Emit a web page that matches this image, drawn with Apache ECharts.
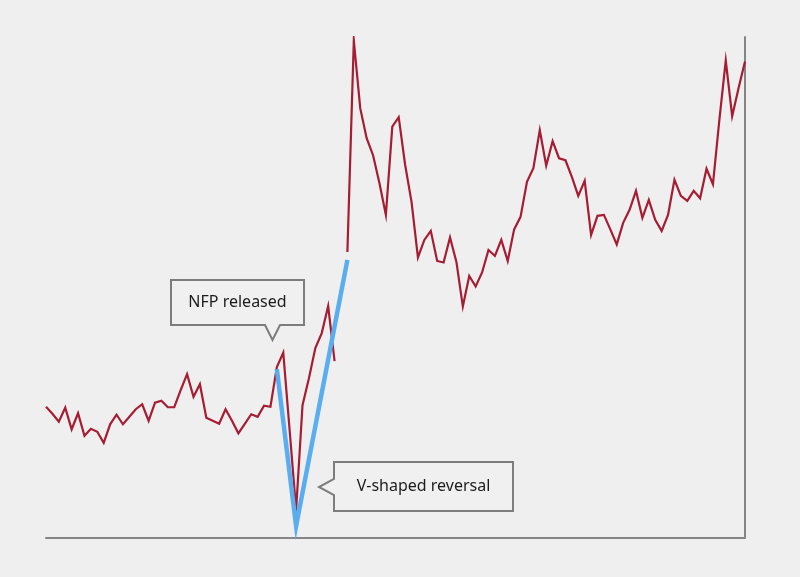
<!DOCTYPE html>
<html>
<head>
<meta charset="utf-8">
<title>NFP V-shaped reversal</title>
<script src="https://cdn.jsdelivr.net/npm/echarts@6/dist/echarts.min.js"></script>
<style>
  html, body { margin: 0; padding: 0; background: #efefef; }
  #chart { width: 800px; height: 577px; }
</style>
</head>
<body>
<div id="chart"></div>
<script>
// price path, one value per bar (index scale 0..100, no labels shown)
const prices = [
  26.2, 24.8, 23.2, 26.0, 21.7, 24.9, 20.4, 21.8, 21.2, 19.0,
  22.7, 24.6, 22.7, 24.2, 25.7, 26.7, 23.4, 27.0, 27.4, 26.1,
  26.1, 29.5, 32.7, 28.2, 30.7, 24.0, 23.4, 22.8, 25.7, 23.4,
  20.9, 22.8, 24.7, 24.2, 26.4, 26.2, 34.1, 37.0, 21.4, 5.6,
  26.5, 31.9, 37.9, 40.9, 46.3, 35.3, null, 57.1, 99.3, 85.8,
  79.8, 76.4, 70.8, 64.5, 82.1, 84.0, 74.5, 67.1, 56.0, 59.5,
  61.3, 55.3, 55.0, 60.0, 55.1, 46.2, 52.3, 50.2, 53.0, 57.5,
  56.3, 59.5, 55.3, 61.6, 64.1, 71.1, 73.8, 81.4, 74.3, 79.2,
  75.8, 75.4, 72.1, 68.3, 71.3, 60.5, 64.3, 64.5, 61.6, 58.6,
  62.9, 65.5, 69.3, 63.9, 67.5, 63.5, 61.3, 64.5, 71.5, 68.3,
  67.3, 69.3, 67.8, 73.7, 70.6, 83.4, 95.3, 84.2, 89.8, 95.1
]

// bar index of each sample
const categories = prices.map((v, i) => String(i + 1))

// the V drawn over the release
const reversalIdx = [36, 39, 47]
const reversalVals = [33.7, 2.4, 55.5]

const notes = ['NFP released', 'V-shaped reversal']

let reversal = categories.map(() => null)
reversalIdx.forEach((idx, k) => { reversal[idx] = reversalVals[k] })

let chart = echarts.init(document.getElementById('chart'))

// callout text, centred on a point
function noteText (text, x, y) {
  return {
    type: 'text',
    x: x,
    y: y,
    style: {
      text: text,
      align: 'center',
      verticalAlign: 'middle',
      fontFamily: 'Noto Sans',
      fontSize: 16,
      fill: '#1c1c1c'
    }
  }
}

chart.setOption({
  backgroundColor: '#efefef',
  animation: false,
  grid: { left: 46, right: 55, top: 37, bottom: 39 },
  xAxis: {
    type: 'category',
    data: categories,
    boundaryGap: false,
    axisLine: { lineStyle: { color: '#858585', width: 2 } },
    axisTick: { show: false },
    axisLabel: { show: false },
    splitLine: { show: false }
  },
  yAxis: {
    type: 'value',
    position: 'right',
    min: 0,
    max: 100,
    axisLine: { show: true, lineStyle: { color: '#858585', width: 2 } },
    axisTick: { show: false },
    axisLabel: { show: false },
    splitLine: { show: false }
  },
  series: [
    {
      type: 'line',
      data: prices,
      showSymbol: false,
      connectNulls: false,
      lineStyle: { color: '#a61d33', width: 2.2, join: 'miter', miterLimit: 20 }
    },
    {
      type: 'line',
      data: reversal,
      showSymbol: false,
      connectNulls: true,
      lineStyle: { color: '#5aaef0', width: 4.5, join: 'miter', miterLimit: 20, cap: 'butt' }
    }
  ],
  graphic: [
    {
      type: 'polygon',
      shape: {
        points: [[171, 280], [304, 280], [304, 325], [280, 325], [272.5, 340], [265, 325], [171, 325]]
      },
      style: { fill: '#f0f0f0', stroke: '#7d7d7d', lineWidth: 2 }
    },
    noteText(notes[0], 237.5, 302),
    {
      type: 'polygon',
      shape: {
        points: [[334, 462], [513, 462], [513, 511], [334, 511], [334, 495], [319, 487], [334, 479]]
      },
      style: { fill: '#f0f0f0', stroke: '#7d7d7d', lineWidth: 2 }
    },
    noteText(notes[1], 423.5, 486.5)
  ]
})
</script>
</body>
</html>
